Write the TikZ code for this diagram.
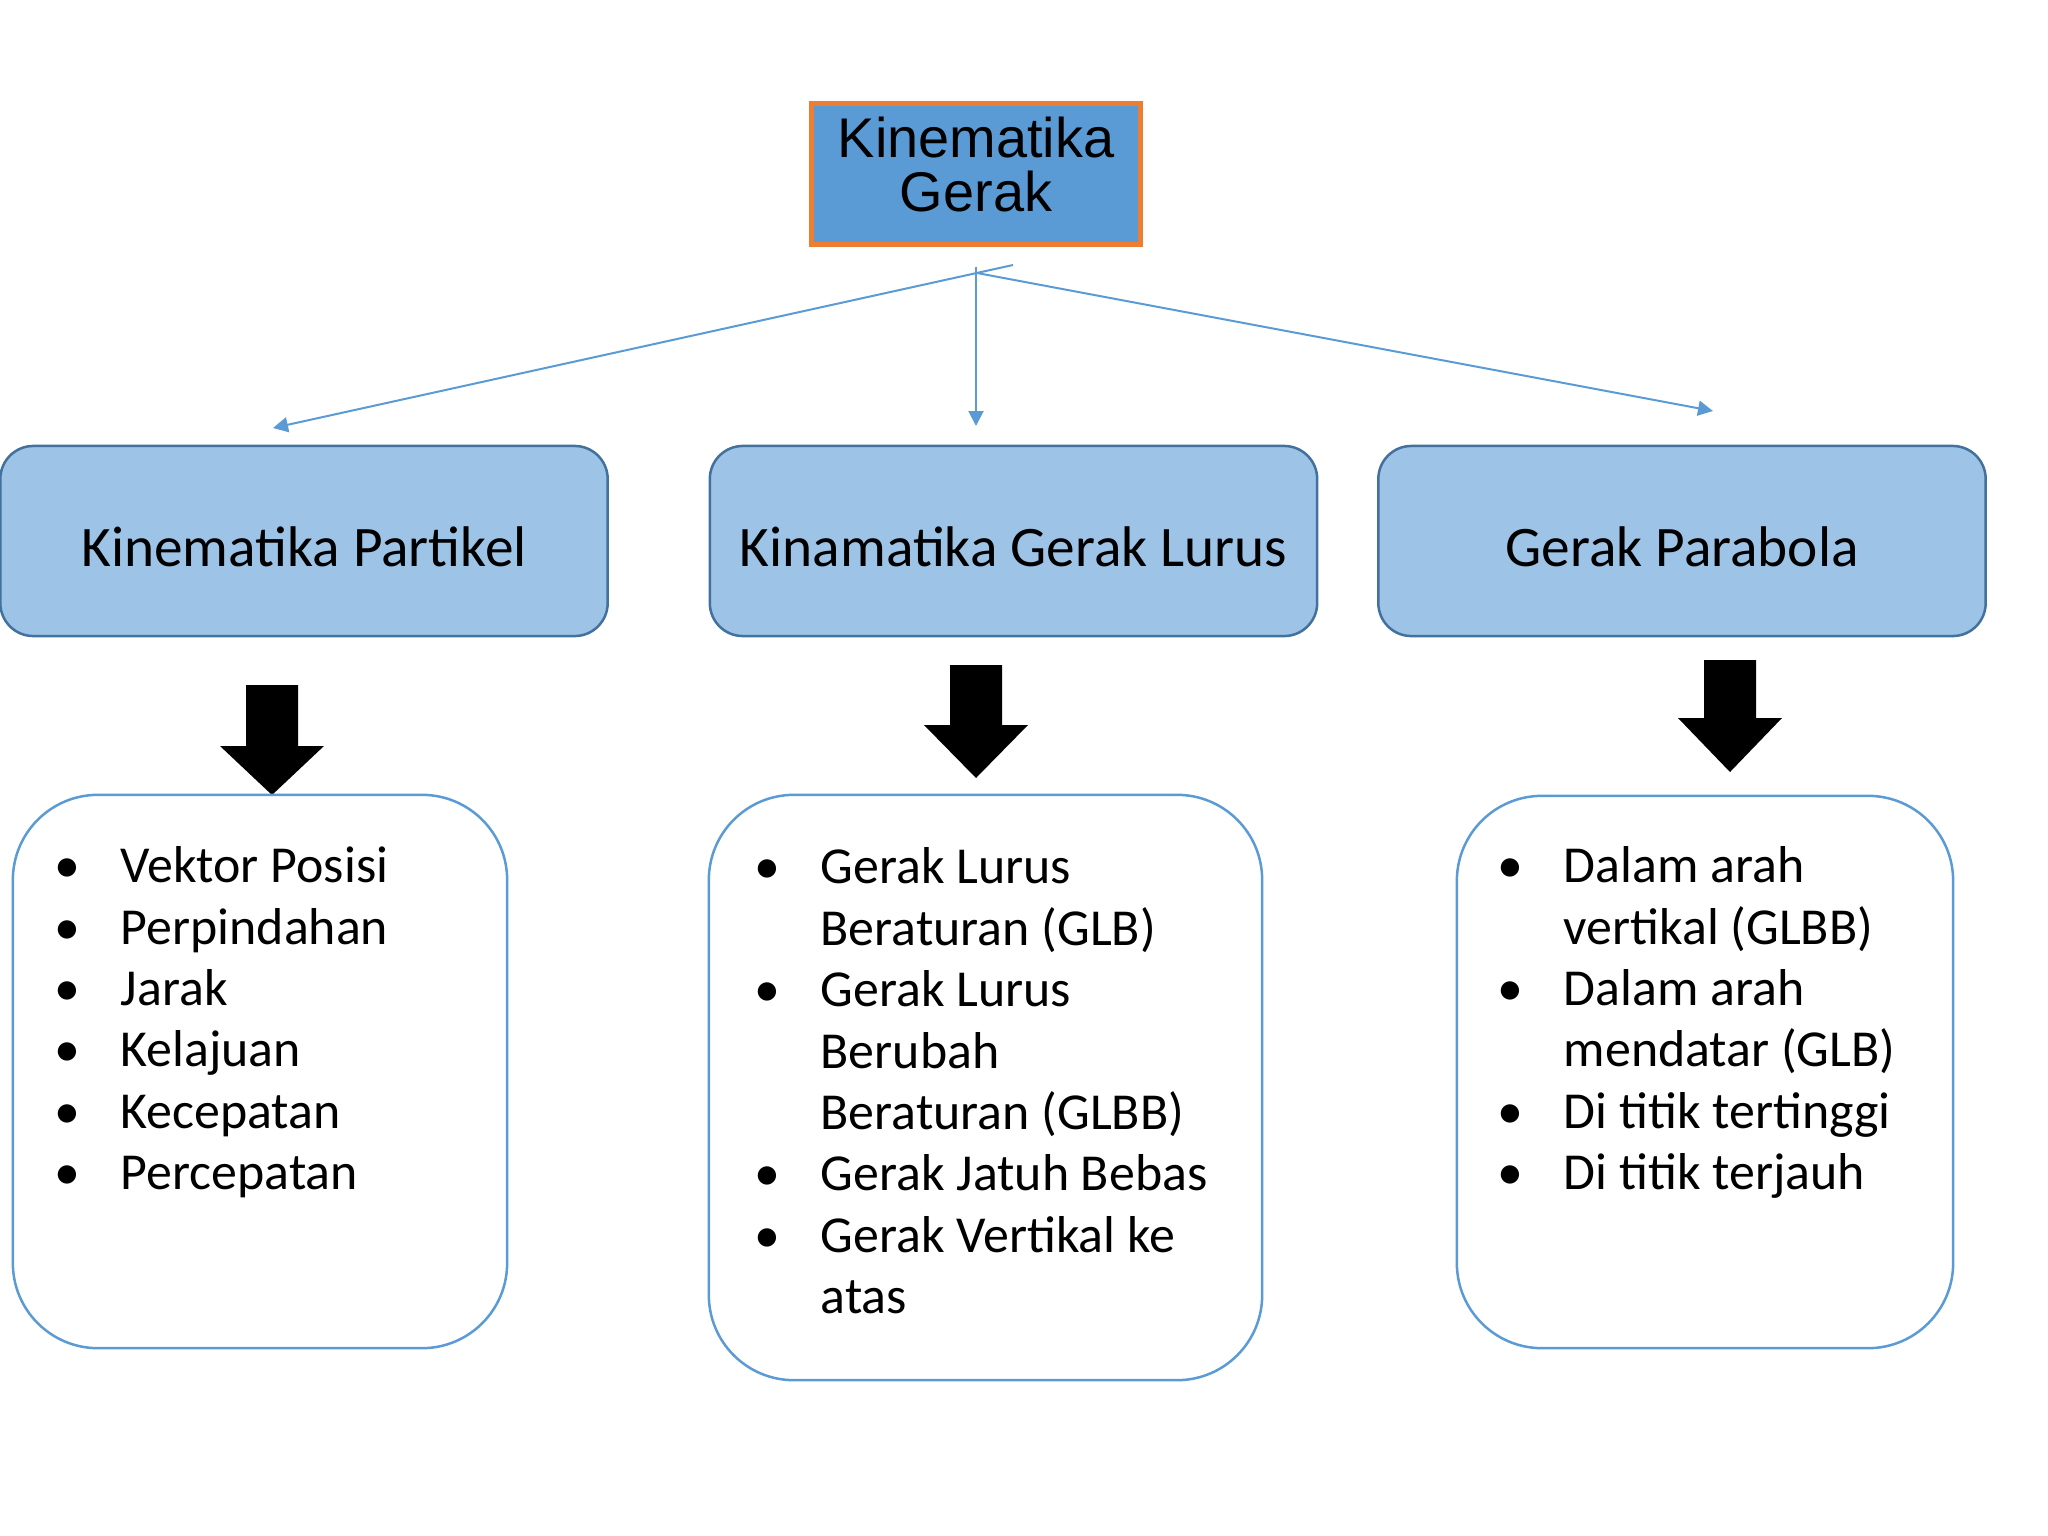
\documentclass[tikz,border=0pt]{standalone}
\usepackage{fontspec}
\setmainfont{Carlito}
\newfontfamily\arialfont{Liberation Sans}
\usetikzlibrary{arrows.meta}
\definecolor{topblue}{HTML}{5B9BD5}
\definecolor{toporange}{HTML}{ED7D31}
\definecolor{midfill}{HTML}{9DC3E6}
\definecolor{midline}{HTML}{41719C}
% bullet centred on the left edge, text 0.53cm to the right
\newcommand\itm{\makebox[0pt]{\textbullet}\hspace*{0.53cm}}
\newcommand\cont{\hspace*{0.53cm}}
\begin{document}
\begin{tikzpicture}[x=0.01cm,y=-0.01cm,>={Triangle[width=0.15cm,length=0.15cm]},
    topbox/.style={draw=toporange, fill=topblue, line width=0.05cm, minimum width=3.28cm,
      minimum height=1.40cm, inner sep=0pt, align=center, text depth=0.2cm,
      font=\arialfont\fontsize{15.9}{15.3}\selectfont},
    midbox/.style={draw=midline, fill=midfill, line width=0.025cm, rounded corners=0.33cm,
      minimum width=6.07cm, minimum height=1.90cm, text height=0.5cm, text depth=0pt,
      font=\fontsize{16.3}{19.5}\selectfont},
    listbox/.style={draw=topblue, line width=0.025cm, rounded corners=0.85cm, inner sep=0pt},
    listtext/.style={anchor=base west, inner sep=0pt, align=left,
      font=\fontsize{14.75}{17.45}\selectfont},
    link/.style={draw=topblue, line width=0.02cm, ->}]
    \useasboundingbox (0,0) rectangle (2048,1536);

    % top and second row
    \node[topbox] (gerak) at (976,174) {Kinematika\\Gerak};
    \node[midbox] (partikel) at (304,541) {Kinematika Partikel};
    \node[midbox] (lurus) at (1013.5,541) {Kinamatika Gerak Lurus};
    \node[midbox] (parabola) at (1682,541) {Gerak Parabola};

    % thin blue connectors
    \coordinate (hubP) at (1013,265);
    \coordinate (hubL) at (976,267);
    \coordinate (hubB) at (977,273);
    \coordinate (tipP) at (273,428);
    \coordinate (tipL) at (976,426);
    \coordinate (tipB) at (1713,411);
    \draw[link] (hubP) -- (tipP);
    \draw[link] (hubL) -- (tipL);
    \draw[link] (hubB) -- (tipB);

    % black block arrows: centre x / top / head start / tip
    \foreach \cx/\ty/\hy/\py in {272/685/746/795, 976/665/725/778, 1730/660/718/772}
      \fill (\cx-26,\ty) -- (\cx+26,\ty) -- (\cx+26,\hy) -- (\cx+52,\hy) -- (\cx,\py)
        -- (\cx-52,\hy) -- (\cx-26,\hy) -- cycle;

    % lists (base = baseline of the last line)
    \node[listbox, minimum width=4.94cm, minimum height=5.53cm] (listP) at (260,1071.5) {};
    \node[listbox, minimum width=5.53cm, minimum height=5.85cm] (listL) at (985.5,1087.5) {};
    \node[listbox, minimum width=4.96cm, minimum height=5.52cm] (listB) at (1705,1072) {};

    \node[listtext] (itemsP) at (67,1189.5) {\itm Vektor Posisi\\ \itm Perpindahan\\ \itm Jarak\\
      \itm Kelajuan\\ \itm Kecepatan\\ \itm Percepatan};
    \node[listtext] (itemsL) at (767,1313.5) {\itm Gerak Lurus\\ \cont Beraturan (GLB)\\
      \itm Gerak Lurus\\ \cont Berubah\\ \cont Beraturan (GLBB)\\ \itm Gerak Jatuh Bebas\\
      \itm Gerak Vertikal ke\\ \cont atas};
    \node[listtext] (itemsB) at (1510,1189.5) {\itm Dalam arah\\ \cont vertikal (GLBB)\\
      \itm Dalam arah\\ \cont mendatar (GLB)\\ \itm Di titik tertinggi\\ \itm Di titik terjauh};
\end{tikzpicture}
\end{document}
